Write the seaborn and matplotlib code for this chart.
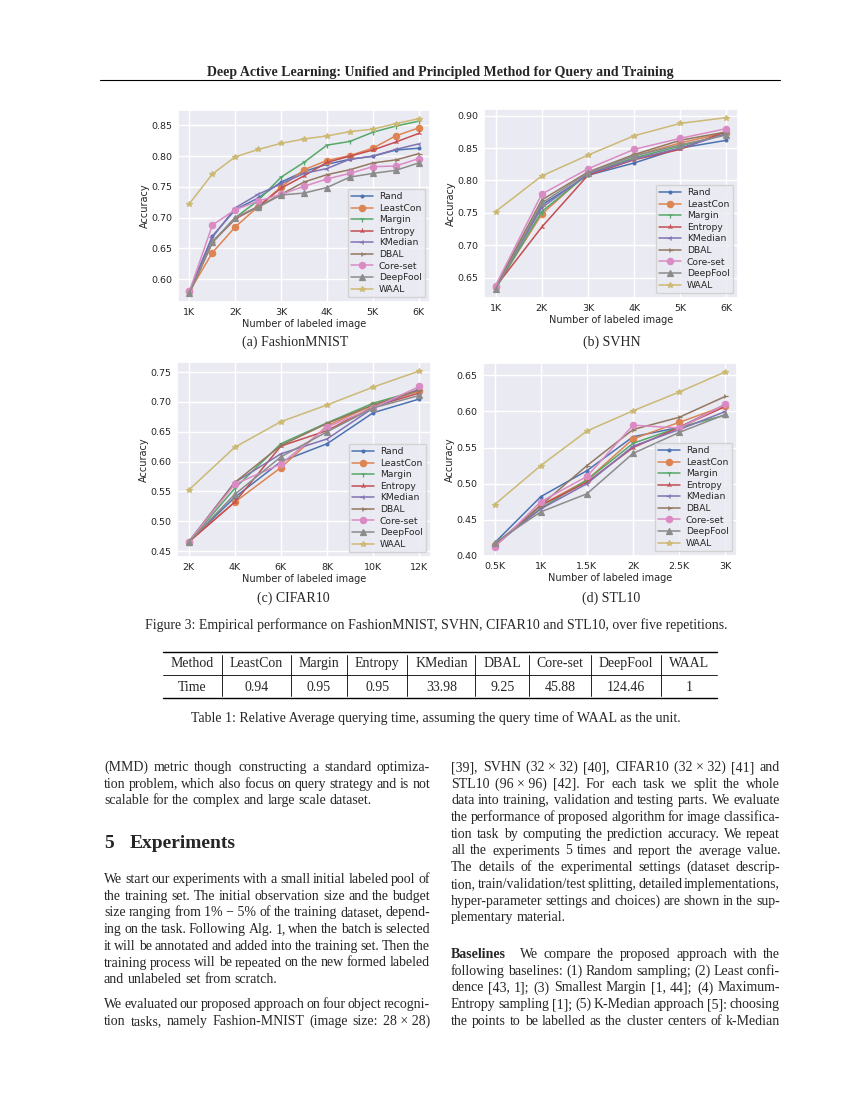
import pandas as pd
import seaborn as sns
import matplotlib.pyplot as plt
from matplotlib.font_manager import FontProperties
from matplotlib.lines import Line2D

# methods and the marker each one uses
methods = ["Rand", "LeastCon", "Margin", "Entropy", "KMedian", "DBAL", "Core-set", "DeepFool", "WAAL"]
marker_of = {"Rand": ".", "LeastCon": "o", "Margin": "1", "Entropy": "2", "KMedian": "3",
             "DBAL": "4", "Core-set": "o", "DeepFool": "^", "WAAL": "*"}

# (a) FashionMNIST, labeled images in thousands
fmnist_x = [1, 1.5, 2, 2.5, 3, 3.5, 4, 4.5, 5, 5.5, 6]
fmnist_ticks = [1, 2, 3, 4, 5, 6]
fmnist_labels = ["1K", "2K", "3K", "4K", "5K", "6K"]
fmnist_acc = {
    "Rand":     [0.580, 0.670, 0.713, 0.732, 0.758, 0.775, 0.787, 0.795, 0.800, 0.810, 0.813],
    "LeastCon": [0.580, 0.643, 0.685, 0.718, 0.750, 0.778, 0.793, 0.801, 0.813, 0.833, 0.846],
    "Margin":   [0.580, 0.660, 0.700, 0.728, 0.766, 0.790, 0.818, 0.824, 0.839, 0.849, 0.857],
    "Entropy":  [0.578, 0.660, 0.698, 0.718, 0.748, 0.768, 0.790, 0.800, 0.810, 0.823, 0.837],
    "KMedian":  [0.580, 0.668, 0.716, 0.738, 0.755, 0.772, 0.780, 0.795, 0.800, 0.811, 0.820],
    "DBAL":     [0.577, 0.660, 0.700, 0.718, 0.738, 0.758, 0.770, 0.778, 0.789, 0.794, 0.804],
    "Core-set": [0.580, 0.688, 0.713, 0.727, 0.738, 0.751, 0.763, 0.772, 0.783, 0.784, 0.796],
    "DeepFool": [0.578, 0.660, 0.700, 0.717, 0.737, 0.740, 0.749, 0.766, 0.772, 0.777, 0.789],
    "WAAL":     [0.723, 0.771, 0.799, 0.811, 0.821, 0.828, 0.833, 0.840, 0.844, 0.853, 0.861],
}

# (b) SVHN
svhn_x = [1, 2, 3, 4, 5, 6]
svhn_labels = ["1K", "2K", "3K", "4K", "5K", "6K"]
svhn_acc = {
    "Rand":     [0.635, 0.762, 0.808, 0.827, 0.850, 0.862],
    "LeastCon": [0.635, 0.748, 0.812, 0.838, 0.858, 0.874],
    "Margin":   [0.633, 0.752, 0.810, 0.835, 0.853, 0.872],
    "Entropy":  [0.636, 0.728, 0.808, 0.832, 0.848, 0.876],
    "KMedian":  [0.635, 0.758, 0.810, 0.833, 0.850, 0.872],
    "DBAL":     [0.636, 0.770, 0.813, 0.840, 0.862, 0.875],
    "Core-set": [0.638, 0.779, 0.818, 0.848, 0.865, 0.880],
    "DeepFool": [0.632, 0.765, 0.812, 0.838, 0.855, 0.870],
    "WAAL":     [0.752, 0.807, 0.839, 0.869, 0.888, 0.897],
}

# (c) CIFAR10
cifar_x = [2, 4, 6, 8, 10, 12]
cifar_labels = ["2K", "4K", "6K", "8K", "10K", "12K"]
cifar_acc = {
    "Rand":     [0.465, 0.540, 0.600, 0.630, 0.682, 0.705],
    "LeastCon": [0.465, 0.532, 0.590, 0.660, 0.695, 0.718],
    "Margin":   [0.465, 0.555, 0.630, 0.665, 0.698, 0.720],
    "Entropy":  [0.465, 0.532, 0.626, 0.652, 0.692, 0.715],
    "KMedian":  [0.465, 0.565, 0.613, 0.638, 0.690, 0.722],
    "DBAL":     [0.465, 0.565, 0.627, 0.664, 0.695, 0.720],
    "Core-set": [0.465, 0.562, 0.596, 0.658, 0.690, 0.726],
    "DeepFool": [0.465, 0.545, 0.608, 0.650, 0.690, 0.711],
    "WAAL":     [0.552, 0.624, 0.667, 0.695, 0.725, 0.752],
}

# (d) STL10
stl_x = [0.5, 1, 1.5, 2, 2.5, 3]
stl_labels = ["0.5K", "1K", "1.5K", "2K", "2.5K", "3K"]
stl_acc = {
    "Rand":     [0.418, 0.482, 0.518, 0.565, 0.578, 0.610],
    "LeastCon": [0.415, 0.470, 0.505, 0.562, 0.585, 0.608],
    "Margin":   [0.415, 0.466, 0.505, 0.556, 0.578, 0.595],
    "Entropy":  [0.413, 0.470, 0.502, 0.550, 0.578, 0.607],
    "KMedian":  [0.415, 0.465, 0.500, 0.552, 0.575, 0.600],
    "DBAL":     [0.415, 0.470, 0.525, 0.575, 0.592, 0.621],
    "Core-set": [0.412, 0.475, 0.510, 0.581, 0.577, 0.610],
    "DeepFool": [0.418, 0.461, 0.486, 0.542, 0.571, 0.596],
    "WAAL":     [0.471, 0.525, 0.573, 0.601, 0.627, 0.655],
}

# Table 1
table_methods = ["LeastCon", "Margin", "Entropy", "KMedian", "DBAL", "Core-set", "DeepFool", "WAAL"]
table_times = ["0.94", "0.95", "0.95", "33.98", "9.25", "45.88", "124.46", "1"]

sns.set_theme(style="darkgrid")
palette = dict(zip(methods, sns.color_palette("deep", 9)))

fig = plt.figure(figsize=(8.5, 11), dpi=100)
renderer = fig.canvas.get_renderer()
W, H = 850, 1100


def px(x, y):
    return x / W, 1 - y / H


def panel(box, xs, acc, ticks, ticklabels, ylim=None):
    l, t, r, b = box
    ax = fig.add_axes([l / W, 1 - b / H, (r - l) / W, (b - t) / H])
    for m in methods:
        ms = 4.5 if marker_of[m] == "o" else 4
        sns.lineplot(x=xs, y=acc[m], color=palette[m], marker=marker_of[m], label=m,
                     linewidth=1.1, markersize=ms, ax=ax)
    for ln in ax.lines:
        ln.set_markeredgecolor(ln.get_color())
        ln.set_markeredgewidth(0.9)
    ax.set_xticks(ticks)
    ax.set_xticklabels(ticklabels)
    if ylim:
        ax.set_ylim(*ylim)
    ax.tick_params(labelsize=6.8, length=0, pad=4)
    ax.set_xlabel("Number of labeled image", fontsize=7, labelpad=1.5)
    ax.set_ylabel("Accuracy", fontsize=7, labelpad=1)
    ax.legend(loc="lower right", fontsize=6.6, labelspacing=0.28, handlelength=2.4,
              borderpad=0.4, handletextpad=0.6)
    return ax


panel((178, 110, 430, 302), fmnist_x, fmnist_acc, fmnist_ticks, fmnist_labels)
panel((484, 109, 738, 298), svhn_x, svhn_acc, svhn_x, svhn_labels)
panel((177, 362, 431, 557), cifar_x, cifar_acc, cifar_x, cifar_labels, ylim=(0.44, 0.767))
panel((483, 363, 737, 556), stl_x, stl_acc, stl_x, stl_labels)

# ---- page text ----
serif = "Liberation Serif"
body = FontProperties(family=serif, size=10)
bold = FontProperties(family=serif, size=10, weight="bold")
head = FontProperties(family=serif, size=14, weight="bold")


def width(s, fp):
    t = fig.text(0, 0, s, fontproperties=fp)
    w = t.get_window_extent(renderer).width
    t.remove()
    return w


def put_line(x0, x1, y, line, fp=body, justify=True):
    words = line.split(" ")
    ws = [width(w, fp) for w in words]
    if justify and len(words) > 1:
        gap = (x1 - x0 - sum(ws)) / (len(words) - 1)
    else:
        gap = width("a a", fp) - width("aa", fp)
    x = x0
    for w, wd in zip(words, ws):
        fig.text(*px(x, y), w, fontproperties=fp, va="baseline", ha="left")
        x += wd + gap


def paragraph(x0, x1, y0, lines, last_full=False, step=16.7):
    for i, line in enumerate(lines):
        full = last_full or i < len(lines) - 1
        put_line(x0, x1, y0 + i * step, line, justify=full)


def centered(x, y, s, fp=body):
    fig.text(*px(x, y), s, fontproperties=fp, ha="center", va="baseline")


# running header
centered(440, 76, "Deep Active Learning: Unified and Principled Method for Query and Training", bold)
fig.add_artist(Line2D([100 / W, 780 / W], [1 - 80 / H] * 2, color="black", lw=0.8))

# sub captions
centered(295, 346, "(a) FashionMNIST")
centered(612, 346, "(b) SVHN")
centered(293, 602, "(c) CIFAR10")
centered(611, 602, "(d) STL10")
centered(436, 629, "Figure 3: Empirical performance on FashionMNIST, SVHN, CIFAR10 and STL10, over five repetitions.")

# table 1
head_row = ["Method"] + table_methods
val_row = ["Time"] + table_times
col_w = [max(width(a, body), width(b, body)) for a, b in zip(head_row, val_row)]
t_left, t_right = 163, 717
pad = (t_right - t_left - sum(col_w)) / (2 * len(col_w))
x = t_left
edges = [x]
for i, cw in enumerate(col_w):
    cx = x + pad + cw / 2
    centered(cx, 667, head_row[i])
    centered(cx, 691, val_row[i])
    x += cw + 2 * pad
    edges.append(x)
for e in edges[1:-1]:
    fig.add_artist(Line2D([e / W] * 2, [1 - 655 / H, 1 - 696 / H], color="black", lw=0.6))
for yy, lw in [(652, 1.0), (675, 0.6), (698, 1.0)]:
    fig.add_artist(Line2D([t_left / W, t_right / W], [1 - yy / H] * 2, color="black", lw=lw))
centered(436, 722, "Table 1: Relative Average querying time, assuming the query time of WAAL as the unit.")

# left column
L0, L1 = 104, 430
paragraph(L0, L1, 771, [
    "(MMD) metric though constructing a standard optimiza-",
    "tion problem, which also focus on query strategy and is not",
    "scalable for the complex and large scale dataset.",
])
fig.text(*px(L0, 848), "5", fontproperties=head, va="baseline")
fig.text(*px(130, 848), "Experiments", fontproperties=head, va="baseline")
paragraph(L0, L1, 883, [
    "We start our experiments with a small initial labeled pool of",
    "the training set. The initial observation size and the budget",
    "size ranging from 1%\u00a0\u2212\u00a05% of the training dataset, depend-",
    "ing on the task. Following Alg. 1, when the batch is selected",
    "it will be annotated and added into the training set. Then the",
    "training process will be repeated on the new formed labeled",
    "and unlabeled set from scratch.",
])
paragraph(L0, L1, 1008, [
    "We evaluated our proposed approach on four object recogni-",
    "tion tasks, namely Fashion-MNIST (image size: 28\u00a0\u00d7\u00a028)",
], last_full=True)

# right column
R0, R1 = 451, 780
paragraph(R0, R1, 771, [
    "[39], SVHN (32\u00a0\u00d7\u00a032) [40], CIFAR10 (32\u00a0\u00d7\u00a032) [41] and",
    "STL10 (96\u00a0\u00d7\u00a096) [42]. For each task we split the whole",
    "data into training, validation and testing parts. We evaluate",
    "the performance of proposed algorithm for image classifica-",
    "tion task by computing the prediction accuracy. We repeat",
    "all the experiments 5 times and report the average value.",
    "The details of the experimental settings (dataset descrip-",
    "tion, train/validation/test splitting, detailed implementations,",
    "hyper-parameter settings and choices) are shown in the sup-",
    "plementary material.",
])
fig.text(*px(R0, 958), "Baselines", fontproperties=bold, va="baseline")
put_line(R0 + width("Baselines", bold) + 14, R1, 958, "We compare the proposed approach with the")
paragraph(R0, R1, 958 + 16.7, [
    "following baselines: (1) Random sampling; (2) Least confi-",
    "dence [43, 1]; (3) Smallest Margin [1, 44]; (4) Maximum-",
    "Entropy sampling [1]; (5) K-Median approach [5]: choosing",
    "the points to be labelled as the cluster centers of k-Median",
], last_full=True)

fig.savefig("out.png", dpi=100, facecolor="white")
